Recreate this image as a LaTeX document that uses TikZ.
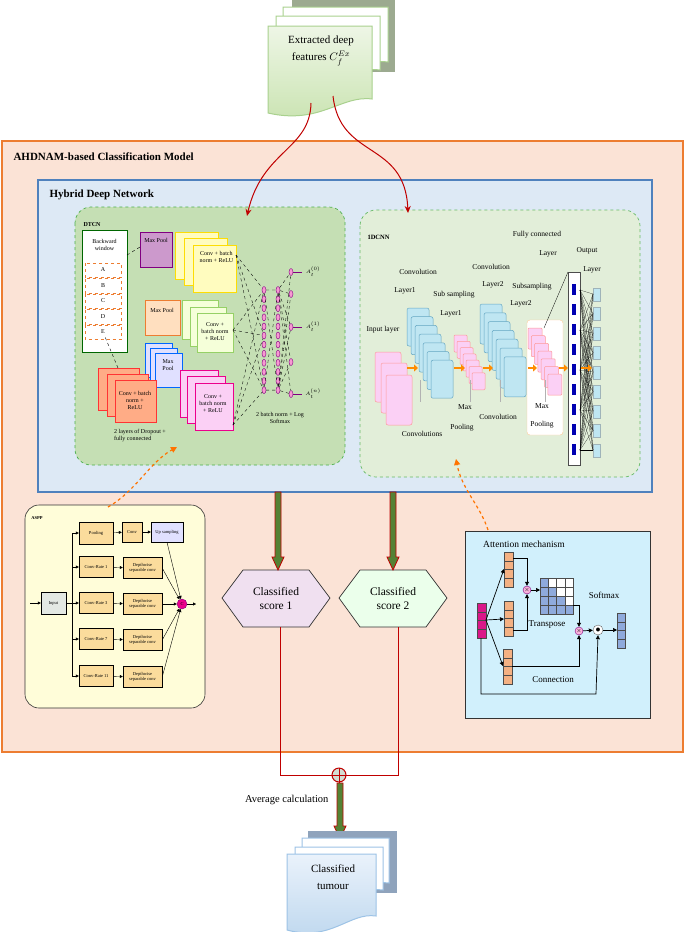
\documentclass[tikz,border=0pt]{standalone}
\usepackage{fontspec}
\setmainfont{Liberation Serif}
\usetikzlibrary{arrows.meta,shapes.geometric,calc}
\definecolor{peach}{HTML}{FBE3D6}
\definecolor{oborder}{HTML}{ED7D31}
\definecolor{hbg}{HTML}{DDE9F5}
\definecolor{hborder}{HTML}{4F81BD}
\definecolor{dgreen}{HTML}{C5DFB4}
\definecolor{lgreen}{HTML}{E2EED9}
\definecolor{cred}{HTML}{C00000}
\definecolor{garrow}{HTML}{548235}
\definecolor{cblue}{HTML}{BFE6F2}
\definecolor{cpink}{HTML}{FBD0F5}
\definecolor{aspbox}{HTML}{FBDC9C}
\definecolor{acol}{HTML}{F4B183}
\definecolor{mblue}{HTML}{8FAADC}
\definecolor{docback}{HTML}{9CAA90}
\definecolor{docg1}{HTML}{EEF6E6}
\definecolor{docg2}{HTML}{C9E3B0}
\definecolor{docgb}{HTML}{A9D18E}
\definecolor{bback}{HTML}{8FA3BC}
\definecolor{db1}{HTML}{EAF2FB}
\definecolor{db2}{HTML}{BDD7EE}
\definecolor{dbb}{HTML}{9DC3E6}
\newcommand\mydoc[5]{\draw[#5] (#1,#2) -- ({#1+#3},#2) -- ({#1+#3},{#2+#4-18}) .. controls ({#1+0.7*#3},{#2+#4-22}) and ({#1+0.5*#3},{#2+#4+8}) .. (#1,{#2+#4-4}) -- cycle;}
\newcommand\gArrow[3]{\filldraw[fill=garrow,draw=cred,line width=0.8pt] ({#1-3},#2) -- ({#1+3},#2) -- ({#1+3},{#3-13}) -- ({#1+6},{#3-13}) -- (#1,#3) -- ({#1-6},{#3-13}) -- ({#1-3},{#3-13}) -- cycle;}
\tikzset{
 tiny/.style={font=\fontsize{6}{7}\selectfont,align=center},
 asp/.style={font=\fontsize{4.5}{5.5}\selectfont,align=center},
 lab/.style={font=\fontsize{7.5}{9}\selectfont,align=center},
 neu/.style={ellipse,draw=violet,fill=magenta!40,minimum width=4pt,minimum height=7pt,inner sep=0pt},
 redc/.style={cred,line width=1pt},
 ar/.style={-{Triangle[length=3pt,width=3pt]},line width=0.4pt},
 aa/.style={-{Triangle[length=4pt,width=4pt]},line width=0.7pt},
 bx/.style={draw,line width=0.4pt,asp},
 cell/.style={draw=black!70,line width=0.4pt},
}
\begin{document}
\begin{tikzpicture}[x=1pt,y=-1pt]
\useasboundingbox (0,0) rectangle (685,932);
\fill[white] (0,0) rectangle (685,932);
% top document
\fill[docback] (292,0) rectangle (395,72);
\mydoc{283}{7}{105}{73}{draw=docgb,fill=white,line width=1pt}
\mydoc{276}{16}{104}{72}{draw=docgb,fill=white,line width=1pt}
\mydoc{268}{26}{104}{91}{draw=docgb,line width=1pt,top color=docg1,bottom color=docg2}
\node[font=\fontsize{11}{17}\selectfont,align=center] (feat) at (321,51) {Extracted deep\\features $C_f^{Ex}$};
\coordinate (fa) at (311,103);
\coordinate (fb) at (333,96);
% outer
\draw[oborder,fill=peach,line width=2.5pt] (2,141) rectangle (683,752);
\node[anchor=west,font=\bfseries\fontsize{11}{13}\selectfont] (t1) at (10,157) {AHDNAM-based Classification Model};
\draw[hborder,fill=hbg,line width=1.2pt] (38,180) rectangle (652,492);
\node[anchor=west,font=\bfseries\fontsize{11}{13}\selectfont] (t2) at (46,195) {Hybrid Deep Network};
% DTCN
\draw[green!55!black!70,dashed,fill=dgreen,rounded corners=16pt,line width=0.7pt] (75,207) rectangle (345,465);
\node[anchor=west,font=\bfseries\fontsize{6}{7}\selectfont] (dtcn) at (80,225) {DTCN};
\draw[green!40!black,fill=white,line width=0.7pt] (82,230) rectangle (127,352);
\node[tiny] (bw) at (104.5,245) {Backward\\window};
\foreach \l [count=\i from 0] in {A,B,C,D,E}{
 \draw[oborder,dashed,fill=white,line width=0.5pt] (85,{263+15.5*\i}) rectangle (121,{277.5+15.5*\i});
 \node[tiny] (bw\l) at (103,{270+15.5*\i}) {\l};}
\draw[violet,fill=violet!40,line width=0.8pt] (140,232) rectangle (172,267);
\node[tiny,anchor=north] (mp1) at (156,235) {Max Pool};
\foreach \x/\y in {175/232,184/238,193/245} \draw[yellow!80!orange,fill=yellow!25,line width=0.8pt] (\x,\y) rectangle ++(43,47);
\node[tiny,anchor=north west] (cv1) at (196,248) {Conv + batch\\norm + ReLU};
\draw[oborder,fill=orange!25,line width=0.8pt] (145,300) rectangle (180,335);
\node[tiny] (mp2) at (162,310) {Max Pool};
\foreach \x/\y in {182/300,190/307,197/313} \draw[green!40!lime!70!black!60,fill=lime!15,line width=0.8pt] (\x,\y) rectangle ++(36,39);
\node[tiny] (cv2) at (215,332) {Conv +\\batch norm\\+ ReLU};
\foreach \x/\y in {145/343,150/348,155/353} \draw[blue!60!cyan,fill=blue!12,line width=0.8pt] (\x,\y) rectangle ++(27,34);
\node[tiny] (mp3) at (168,365) {Max\\Pool};
\foreach \x/\y in {98/368,107/374,115/380} \draw[red!80,fill=orange!30!pink,line width=0.8pt] (\x,\y) rectangle ++(41,42);
\node[tiny] (cv3) at (135,400) {Conv + batch\\norm +\\ReLU};
\foreach \x/\y in {180/370,187/376,195/383} \draw[magenta,fill=cpink,line width=0.8pt] (\x,\y) rectangle ++(38,47);
\node[tiny] (cv4) at (213,404) {Conv +\\batch norm\\+ ReLU};
\draw[dashed,line width=0.4pt] (127,255) -- (140,247);
\draw[dashed,line width=0.4pt] (bwE) -- (118,368);
% neurons
\foreach \i in {0,...,11}{
 \node[neu] (na\i) at (264,{290+9.1*\i}) {};
 \node[neu] (nb\i) at (278,{290+9.1*\i}) {};}
\foreach \i/\y in {1/272,2/294,3/327,4/362,5/394} \node[neu] (no\i) at (291,\y) {};
\foreach \s in {(236,255),(233,330),(233,425)} {\draw[dashed,line width=0.35pt] \s -- (na0); \draw[dashed,line width=0.35pt] \s -- (na11); \draw[dashed,line width=0.35pt] \s -- (na5);}
\draw[dashed,line width=0.35pt] (na0) -- (nb0) (na11) -- (nb11) (na0) -- (nb11) (na11) -- (nb0);
\foreach \j in {1,...,5} {\draw[dashed,line width=0.35pt] (nb0) -- (no\j); \draw[dashed,line width=0.35pt] (nb11) -- (no\j);}
\foreach \j/\t/\y in {1/0/272,3/1/327,5/n/394}{\draw[violet,line width=0.8pt] (no\j) -- ++(11,0); \node[font=\fontsize{5.5}{6}\selectfont] (lab\j) at (313,\y) {$A_t^{(\t)}$};}
\node[tiny] (bnls) at (280,418) {2 batch norm + Log\\Softmax};
\node[tiny,align=left] (dfc) at (140,436) {2 layers of Dropout +\\fully connected};
% 1DCNN
\draw[green!55!black!60,dashed,fill=lgreen,rounded corners=16pt,line width=0.7pt] (360,210) rectangle (640,477);
\node[anchor=west,font=\bfseries\fontsize{6.5}{7}\selectfont] (cnn) at (364,237) {1DCNN};
\foreach \x/\y in {375/352,381/363,386/375} \draw[pink!80!red,fill=cpink,rounded corners=2pt,line width=0.5pt] (\x,\y) rectangle ++(26,50);
\foreach \i in {0,...,6} \draw[cyan!50!gray,fill=cblue,rounded corners=2pt,line width=0.5pt] ({407+4*\i},{308+8.7*\i}) rectangle ++(22,38);
\foreach \i in {0,...,6} \draw[pink!80!red,fill=cpink,rounded corners=1pt,line width=0.5pt] ({454+3*\i},{335+6.3*\i}) rectangle ++(13,17);
\foreach \i in {0,...,6} \draw[cyan!50!gray,fill=cblue,rounded corners=2pt,line width=0.5pt] ({480+4*\i},{304+8.8*\i}) rectangle ++(22,40);
\draw[orange!40,fill=white,rounded corners=3pt] (527,320) rectangle (563,435);
\foreach \i in {0,...,6} \draw[pink!80!red,fill=cpink,rounded corners=1pt,line width=0.5pt] ({528+3.3*\i},{328+7.7*\i}) rectangle ++(14,21);
\draw[black!70,fill=white,line width=0.6pt] (568,272) rectangle (580,465);
\foreach \i in {0,...,8} \fill[blue!70!black] (572,{284+20*\i}) rectangle ++(4,11);
\draw[line width=0.3pt] (544,328) -- (568,272);
\foreach \i in {0,...,8} {\draw[cblue!50!gray,fill=cblue,line width=0.5pt] (593,{288+19.5*\i}) rectangle ++(7,13);
 \foreach \k in {0,2,4,6,8} \draw[line width=0.15pt] (580,{290+20*\k}) -- (593,{294+19.5*\i});}
\foreach \a/\b in {407/418,454/465,483/493,528/537,559/568,581/592} \draw[orange!90!yellow,line width=2.8pt,-{Triangle[length=4pt,width=7pt]}] (\a,368) -- (\b,368);
\foreach \x in {420,470,500,545} \draw[gray!60,line width=0.3pt] (\x,380) -- (\x,402);
\node[lab] (l1) at (537,235) {Fully connected};
\node[lab] (l2) at (548,254) {Layer};
\node[lab] (l3) at (587,251) {Output};
\node[lab] (l4) at (592,270) {Layer};
\node[lab] (l5) at (418,272) {Convolution};
\node[lab] (l6) at (405,291) {Layer1};
\node[lab] (l7) at (454,295) {Sub sampling};
\node[lab] (l8) at (451,314) {Layer1};
\node[lab] (l9) at (491,267) {Convolution};
\node[lab] (l10) at (493,285) {Layer2};
\node[lab] (l11) at (532,287) {Subsampling};
\node[lab] (l12) at (521,304) {Layer2};
\node[lab] (l13) at (383,330) {Input layer};
\node[lab] (l14) at (422,434) {Convolutions};
\node[lab] (l15) at (465,407) {Max};
\node[lab] (l16) at (462,428) {Pooling};
\node[lab] (l17) at (498,417) {Convolution};
\node[lab] (l18) at (542,406) {Max};
\node[lab] (l19) at (542,425) {Pooling};
% ASPP
\draw[black!80,fill=yellow!15,rounded corners=14pt,line width=0.6pt] (25,505) rectangle (205,708);
\node[font=\bfseries\fontsize{4.5}{5}\selectfont] (aspp) at (37,518) {ASPP};
\node[bx,fill=green!8!gray!20,minimum width=25pt,minimum height=22pt] (in) at (53.5,603) {Input};
\node[bx,fill=aspbox,minimum width=34pt,minimum height=22pt] (pool) at (96,533) {Pooling};
\node[bx,fill=aspbox,minimum width=20pt,minimum height=20pt] (cv) at (132,532) {Conv};
\node[bx,fill=blue!12,minimum width=32pt,minimum height=20pt] (up) at (167,532) {Up sampling};
\node[circle,draw=violet,fill=magenta,minimum size=10pt,inner sep=0pt,font=\fontsize{4.5}{5}\selectfont] (cc) at (182,604) {C};
\foreach \n/\y/\t in {r1/567/Conv-Rate 1,r3/603/Conv-Rate 3,r7/639/Conv-Rate 7,r11/676/Conv-Rate 11}{
 \node[bx,fill=aspbox,minimum width=34pt,minimum height=21pt] (\n) at (96,\y) {\t};
 \node[bx,fill=aspbox,minimum width=39pt,minimum height=21pt] (d\n) at (142.5,{\y+1}) {Depthwise\\separable conv};
 \draw[ar] (\n) -- (d\n);
 \draw[ar] (d\n.east) -- (cc);}
\draw[ar] (up.south) -- (cc);
\draw[ar] (pool) -- (cv); \draw[ar] (cv) -- (up);
\coordinate (ain) at (30,603);
\draw[ar] (ain) -- (in.west);
\draw[line width=0.4pt] (in.east) -- (72,603);
\draw[line width=0.4pt] (72,533) -- (72,676);
\foreach \n in {pool,r1,r3,r7,r11} \draw[ar] (72,0 |- \n.west) -- (\n.west);
\coordinate (aout) at (196,604);
\draw[ar] (cc) -- (aout);
% Attention
\draw[black!80,fill=cyan!18,line width=0.8pt] (465,531) rectangle (650,718);
\node[font=\fontsize{9.5}{11}\selectfont] (att) at (524,544) {Attention mechanism};
\foreach \i in {0,...,3} {
 \draw[cell,fill=magenta!80!violet] (477,{603+8.75*\i}) rectangle ++(9,8.75);
 \draw[cell,fill=acol] (504,{552+8.75*\i}) rectangle ++(9,8.75);
 \draw[cell,fill=acol] (504,{601+8.75*\i}) rectangle ++(9,8.75);
 \draw[cell,fill=acol] (503,{649+8.75*\i}) rectangle ++(9,8.75);
 \draw[cell,fill=mblue] (617,{613+8.75*\i}) rectangle ++(8,8.75);
 \foreach \j in {0,...,3}{\ifnum\j>\i \def\cf{white}\else\def\cf{mblue}\fi
  \draw[cell,fill=\cf] ({540+8.3*\j},{578+9*\i}) rectangle ++(8.3,9);}}
\coordinate (inp) at (486,620);
\node[circle,draw=violet,fill=magenta!30,minimum size=8pt,inner sep=0pt,font=\fontsize{6}{6}\selectfont] (m1) at (527,590) {$\times$};
\node[circle,draw=violet,fill=magenta!30,minimum size=8pt,inner sep=0pt,font=\fontsize{6}{6}\selectfont] (m2) at (579,631) {$\times$};
\node[circle,draw=black!60,fill=white,minimum size=10pt,inner sep=0pt] (dt) at (598,630) {$\bullet$};
\draw[aa] (inp) -- (504,569);
\draw[aa] (inp) -- (504,619);
\draw[aa] (inp) -- (503,666);
\draw[aa] (513,558) -| (m1.north);
\draw[aa] (513,630) -| (m1.south);
\draw[aa] (m1) -- (540,590);
\draw[aa] (573,605) -| (m2.north);
\draw[aa] (512,666) -| (m2.south);
\draw[aa] (m2) -- (dt);
\draw[aa] (dt) -- (617,630);
\draw[aa] (481,638) |- (596,694) -- (dt.south);
\node[font=\fontsize{9}{11}\selectfont] (sm) at (604,595) {Softmax};
\node[font=\fontsize{9}{11}\selectfont] (tp) at (547,625) {Transpose};
\node[font=\fontsize{9}{11}\selectfont] (cn) at (553,680) {Connection};
% hexagons
\draw[black!80,fill=violet!12,line width=0.7pt] (222,598) -- (243,570) -- (309,570) -- (330,598) -- (309,627) -- (243,627) -- cycle;
\node[font=\fontsize{11.5}{14}\selectfont,align=center] (s1) at (276,598) {Classified\\score 1};
\draw[black!80,fill=green!8,line width=0.7pt] (339,598) -- (360,570) -- (426,570) -- (447,598) -- (426,627) -- (360,627) -- cycle;
\node[font=\fontsize{11.5}{14}\selectfont,align=center] (s2) at (393,598) {Classified\\score 2};
\gArrow{278}{492}{570}
\gArrow{393}{492}{570}
% combining
\node[circle,draw=cred,fill=green!15!gray!30,minimum size=14pt,inner sep=0pt,line width=1pt] (sum) at (339,775) {};
\draw[cred,line width=0.9pt] (sum.north) -- (sum.south) (sum.west) -- (sum.east);
\draw[redc] (280,627) |- (sum.west);
\draw[redc] (398,627) |- (sum.east);
\gArrow{340}{783}{839}
\node[anchor=east,font=\fontsize{10.5}{12}\selectfont] (avg) at (332,800) {Average calculation};
% bottom document
\fill[bback] (308,831) rectangle (397,893);
\mydoc{302}{838}{87}{63}{draw=dbb,fill=white,line width=1pt}
\mydoc{295}{847}{88}{61}{draw=dbb,fill=white,line width=1pt}
\mydoc{287}{854}{89}{80}{draw=dbb,line width=1pt,top color=db1,bottom color=db2}
\node[font=\fontsize{11}{17}\selectfont,align=center] (ct) at (333,877) {Classified\\tumour};
% red curves
\coordinate (d1) at (247,216);
\coordinate (d2) at (408,213);
\draw[redc,-{Stealth[length=7pt,width=6pt]}] (fa) .. controls (310,150) and (262,150) .. (d1);
\draw[redc,-{Stealth[length=7pt,width=6pt]}] (fb) .. controls (340,160) and (405,140) .. (d2);
% orange dashed
\coordinate (o1) at (108,507);
\coordinate (o2) at (177,447);
\coordinate (o3) at (488,530);
\coordinate (o4) at (456,459);
\draw[orange!90!red,dashed,line width=1.2pt,-{Triangle[length=6pt,width=6pt]}] (o1) .. controls (135,492) and (150,462) .. (o2);
\draw[orange!90!red,dashed,line width=1.2pt,-{Triangle[length=6pt,width=6pt]}] (o3) .. controls (480,505) and (462,490) .. (o4);
\end{tikzpicture}
\end{document}
